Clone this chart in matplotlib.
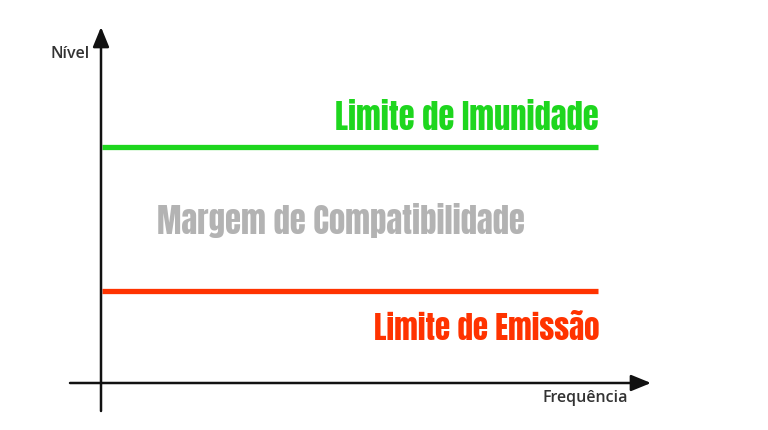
import matplotlib
matplotlib.use('Agg')
import matplotlib.pyplot as plt

# limit lines (level in picture units, top = 0)
limit_names = ['Limite de Imunidade', 'Limite de Emissão']
limit_levels = [146.5, 291]
limit_colors = ['#1ed61e', '#ff3300']
label_baselines = [130, 340]
label_sizes = [23.5, 22.4]

margin_label = 'Margem de Compatibilidade'
x_label = 'Frequência'
y_label = 'Nível'

fig = plt.figure(figsize=(7.68, 4.30), dpi=100)
ax = fig.add_axes([0, 0, 1, 1])
ax.set_xlim(0, 768)
ax.set_ylim(430, 0)
ax.axis('off')

bold = ['Anton', 'DejaVu Sans']
small = ['Open Sans', 'DejaVu Sans']

# axes with arrows
arrow = dict(arrowstyle='-|>,head_length=1.1,head_width=0.45',
             color='#111111', lw=1.8, mutation_scale=11,
             shrinkA=0, shrinkB=0)
ax.annotate('', xy=(101, 27), xytext=(101, 411), arrowprops=arrow)
ax.annotate('', xy=(651, 383), xytext=(70, 383), arrowprops=arrow)

for name, lev, col, bl, fs in zip(limit_names, limit_levels, limit_colors,
                                  label_baselines, label_sizes):
    ax.plot([102, 598], [lev, lev], color=col, lw=3.8, solid_capstyle='butt')
    ax.text(599, bl, name, color=col, fontsize=fs, family=bold,
            ha='right', va='baseline')

ax.text(157, 234, margin_label, color='#b3b3b3', fontsize=23.6, family=bold,
        ha='left', va='baseline')

ax.text(50, 58, y_label, fontsize=11.5, fontweight='semibold', color='#333333',
        family=small, ha='left', va='baseline')
ax.text(542, 402, x_label, fontsize=11.5, fontweight='semibold', color='#333333',
        family=small, ha='left', va='baseline')

fig.savefig('out.png', dpi=100)
